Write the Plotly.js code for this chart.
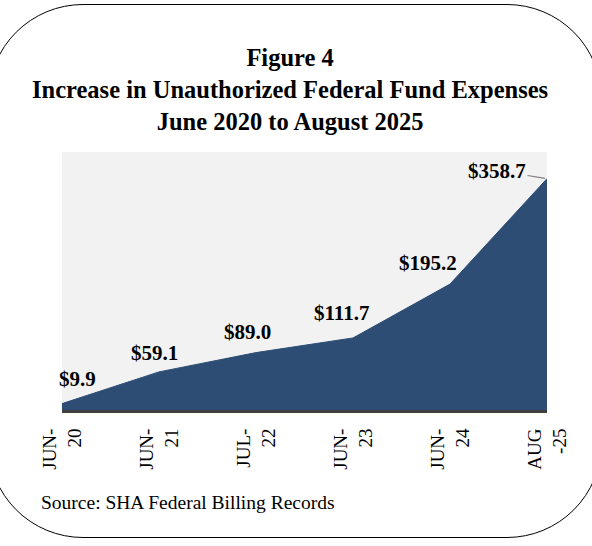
<!DOCTYPE html>
<html>
<head>
<meta charset="utf-8">
<script src="https://cdn.plot.ly/plotly-3.0.1.min.js"></script>
<style>
  html, body { margin: 0; padding: 0; background: #fff; overflow: hidden; }
  #wrap { position: relative; width: 592px; height: 546px; overflow: hidden; }
  #frame {
    position: absolute; left: -12px; top: 4px; width: 614px; height: 534px;
    border: 1.6px solid #000; border-radius: 95px; box-sizing: border-box;
  }
  #chart { position: absolute; left: 0; top: 0; }
</style>
</head>
<body>
<div id="wrap">
  <div id="frame"></div>
  <div id="chart"></div>
</div>
<script>
// months on the x axis and the expense totals (millions of dollars)
const months = ['JUN-20', 'JUN-21', 'JUL-22', 'JUN-23', 'JUN-24', 'AUG-25'];
const tickText = ['JUN-<br>20', 'JUN-<br>21', 'JUL-<br>22', 'JUN-<br>23', 'JUN-<br>24', 'AUG<br>-25'];
const expenses = [9.9, 59.1, 89.0, 111.7, 195.2, 358.7];
const labels = ['$9.9', '$59.1', '$89.0', '$111.7', '$195.2', '$358.7'];

// where each value label sits relative to its point (px)
const shiftX = [15, -5, -9, -12, -22, -50];
const shiftY = [25, 19, 21, 25, 21, 8];

const serif = 'Liberation Serif, Times New Roman, serif';

var trace = {
  x: months,
  y: expenses,
  type: 'scatter',
  mode: 'lines',
  fill: 'tozeroy',
  fillcolor: '#2e4d74',
  line: {color: '#2e4d74', width: 1},
  hoverinfo: 'skip'
};

var annotations = labels.map(function (t, i) {
  var last = i === labels.length - 1;
  return {
    x: months[i], y: expenses[i], xref: 'x', yref: 'y',
    text: t,
    showarrow: last,
    arrowhead: 0, arrowwidth: 1.2, arrowcolor: '#7f7f7f', standoff: 2,
    ax: last ? shiftX[i] : 0, ay: last ? -shiftY[i] : 0,
    xshift: last ? 0 : shiftX[i], yshift: last ? 0 : shiftY[i],
    font: {family: serif, size: 21, color: '#000', weight: 'bold'}
  };
});

annotations.push({
  xref: 'paper', yref: 'paper', x: -0.047, y: -0.357,
  xanchor: 'left', yanchor: 'middle', showarrow: false,
  text: 'Source: SHA Federal Billing Records',
  font: {family: serif, size: 19.5, color: '#000'}
});

var layout = {
  width: 592, height: 546,
  margin: {l: 62, r: 45, t: 152, b: 136},
  paper_bgcolor: 'rgba(0,0,0,0)',
  plot_bgcolor: '#f2f2f2',
  showlegend: false,
  title: {
    text: 'Figure 4<br>Increase in Unauthorized Federal Fund Expenses<br>June 2020 to August 2025',
    x: 0.49, xanchor: 'center', y: 1 - 66 / 546, yanchor: 'top', yref: 'container',
    font: {family: serif, size: 24.5, color: '#000', weight: 'bold'}
  },
  xaxis: {
    type: 'category',
    range: [0, months.length - 1],
    tickvals: months, ticktext: tickText,
    tickangle: -90,
    ticks: '',
    ticklabelstandoff: 8,
    showgrid: false, zeroline: false,
    showline: true, linecolor: '#404040', linewidth: 3,
    tickfont: {family: serif, size: 19, color: '#000'}
  },
  yaxis: {
    range: [0, 400],
    showgrid: false, zeroline: false, showline: false,
    showticklabels: false, ticks: ''
  },
  annotations: annotations
};

Plotly.newPlot('chart', [trace], layout, {displayModeBar: false, staticPlot: true});
</script>
</body>
</html>
